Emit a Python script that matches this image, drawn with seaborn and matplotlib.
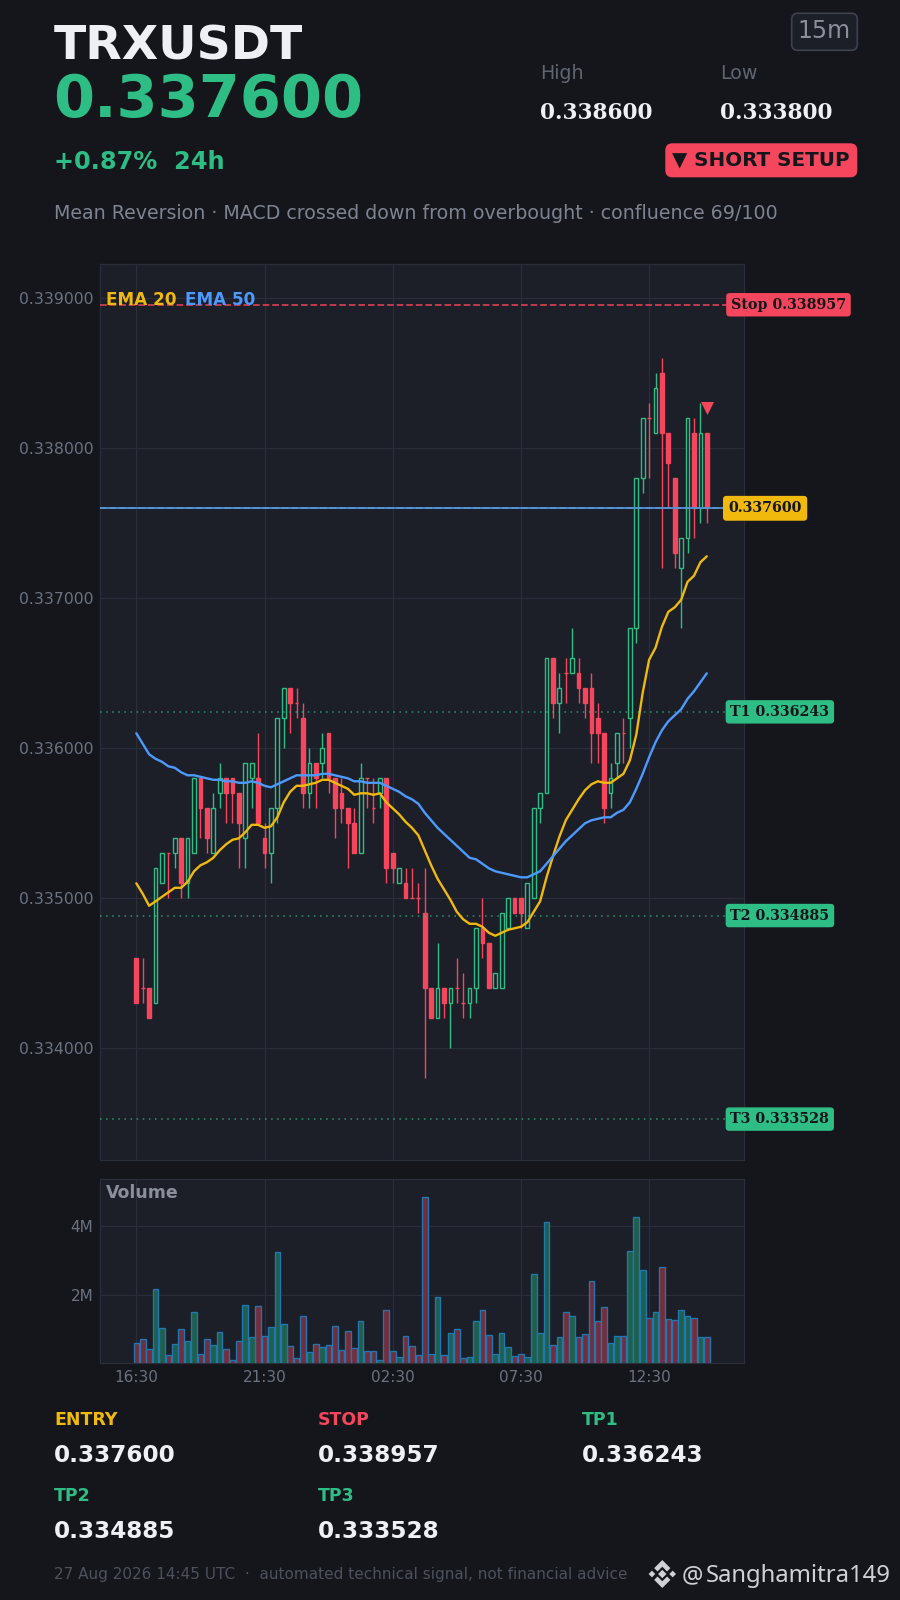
import numpy as np
import pandas as pd
import matplotlib
matplotlib.use('Agg')
import matplotlib.pyplot as plt
import seaborn as sns
from matplotlib.patches import FancyBboxPatch, Polygon
from matplotlib.transforms import IdentityTransform

# Candles
opens = [.3346,.3344,.3344,.3343,.3351,.3353,.3353,.3354,.3351,.3353,
         .3358,.3356,.3353,.3357,.3358,.3358,.3357,.3354,.3358,.3358,
         .3354,.3353,.3356,.3362,.3364,.3363,.3362,.3357,.3359,.3359,
         .3361,.3358,.3357,.3356,.3355,.3353,.3358,.3356,.3357,.3358,
         .3353,.3351,.3351,.3350,.3350,.3349,.3344,.3342,.3344,.3343,
         .3344,.3343,.3343,.3344,.3348,.3347,.3344,.3344,.3348,.3350,
         .3350,.3348,.3350,.3356,.3357,.3366,.3363,.3365,.3365,.3365,
         .3364,.3364,.3362,.3361,.3357,.3359,.3361,.3362,.3368,.3378,
         .3382,.3381,.3385,.3381,.3378,.3372,.3374,.3381,.3376,.3381]
highs = [.3346,.3346,.3344,.3352,.3353,.3353,.3354,.3354,.3354,.3358,
         .3358,.3356,.3357,.3359,.3358,.3358,.3357,.3359,.3359,.3361,
         .3355,.3356,.3362,.3364,.3364,.3364,.3363,.3360,.3359,.3361,
         .3361,.3358,.3358,.3356,.3356,.3359,.3358,.3358,.3358,.3358,
         .3353,.3352,.3352,.3352,.3351,.3352,.3344,.3347,.3344,.3344,
         .3346,.3345,.3344,.3348,.3350,.3347,.3345,.3349,.3350,.3350,
         .3350,.3351,.3356,.3357,.3366,.3366,.3365,.3366,.3368,.3366,
         .3364,.3365,.3363,.3361,.3359,.3361,.3362,.3368,.3378,.3382,
         .3383,.3385,.3386,.3381,.3378,.3374,.3382,.3382,.3383,.3381]
lows = [.3343,.3343,.3342,.3343,.3351,.3350,.3352,.3350,.3350,.3353,
        .3354,.3353,.3353,.3356,.3355,.3355,.3352,.3352,.3356,.3355,
        .3352,.3351,.3355,.3360,.3361,.3362,.3356,.3356,.3356,.3358,
        .3357,.3354,.3355,.3352,.3353,.3353,.3356,.3355,.3356,.3351,
        .3351,.3351,.3350,.3350,.3349,.3338,.3342,.3342,.3342,.3340,
        .3343,.3342,.3342,.3343,.3346,.3344,.3344,.3344,.3348,.3349,
        .3348,.3348,.3350,.3355,.3357,.3362,.3361,.3363,.3365,.3363,
        .3362,.3359,.3359,.3355,.3356,.3358,.3359,.3360,.3367,.3377,
        .3378,.3381,.3372,.3376,.3372,.3368,.3373,.3374,.3375,.3375]
closes = [.3343,.3344,.3342,.3352,.3353,.3353,.3354,.3351,.3354,.3358,
          .3356,.3354,.3356,.3358,.3357,.3357,.3355,.3359,.3359,.3355,
          .3353,.3356,.3362,.3364,.3363,.3363,.3357,.3359,.3358,.3360,
          .3358,.3356,.3356,.3355,.3353,.3358,.3358,.3356,.3358,.3352,
          .3352,.3352,.3350,.3350,.3350,.3344,.3342,.3344,.3343,.3344,
          .3344,.3343,.3344,.3348,.3347,.3344,.3345,.3349,.3350,.3349,
          .3349,.3351,.3356,.3357,.3366,.3363,.3364,.3365,.3366,.3364,
          .3363,.3361,.3361,.3356,.3358,.3361,.3361,.3368,.3378,.3382,
          .3382,.3384,.3381,.3379,.3373,.3374,.3382,.3376,.3381,.3376]
ema20 = [.33510,.33503,.33495,.33498,.33501,.33504,.33507,.33507,.33511,.33518,
         .33522,.33524,.33527,.33532,.33536,.33539,.33540,.33544,.33549,.33549,
         .33547,.33548,.33554,.33564,.33571,.33575,.33575,.33576,.33577,.33579,
         .33579,.33577,.33575,.33573,.33569,.33570,.33570,.33569,.33570,.33564,
         .33560,.33556,.33551,.33547,.33542,.33532,.33522,.33513,.33506,.33499,
         .33491,.33486,.33483,.33483,.33481,.33477,.33475,.33477,.33479,.33480,
         .33481,.33484,.33491,.33498,.33514,.33528,.33541,.33552,.33559,.33566,
         .33572,.33576,.33578,.33577,.33577,.33580,.33583,.33592,.33609,.33637,
         .33659,.33667,.33681,.33691,.33694,.33699,.33711,.33715,.33724,.33728]
ema50 = [.33610,.33603,.33596,.33593,.33591,.33588,.33587,.33584,.33582,.33582,
         .33581,.33580,.33579,.33579,.33578,.33578,.33577,.33577,.33578,.33577,
         .33575,.33574,.33576,.33578,.33580,.33582,.33582,.33582,.33582,.33583,
         .33583,.33582,.33581,.33580,.33578,.33578,.33577,.33577,.33577,.33575,
         .33573,.33571,.33568,.33566,.33563,.33557,.33552,.33547,.33543,.33539,
         .33535,.33531,.33527,.33526,.33523,.33520,.33518,.33517,.33516,.33515,
         .33514,.33514,.33516,.33518,.33523,.33528,.33533,.33538,.33542,.33546,
         .33550,.33552,.33553,.33554,.33554,.33557,.33559,.33564,.33573,.33583,
         .33594,.33604,.33612,.33618,.33622,.33626,.33633,.33638,.33644,.33650]
volume_m = [.61,.72,.43,2.17,1.04,.26,.58,1.01,.67,1.51,
            .29,.74,.55,.93,.43,.14,.67,1.71,.78,1.68,
            .81,1.07,3.25,1.16,.52,.17,1.39,.35,.58,.49,
            .55,1.10,.41,.96,.46,1.25,.38,.38,.12,1.56,
            .38,.20,.81,.52,.26,4.86,.29,1.94,.26,.90,
            1.01,.17,.20,1.25,1.56,.84,.29,.90,.49,.23,
            .29,.20,2.61,.90,4.12,.55,.78,1.51,1.39,.78,
            .87,2.41,1.25,1.65,.61,.81,.81,3.27,4.26,2.72,
            1.33,1.51,2.81,1.30,1.27,1.56,1.39,1.33,.78,.78]

time_ticks = [0, 20, 40, 60, 80]
time_labels = ['16:30', '21:30', '02:30', '07:30', '12:30']
price_ticks = [.334, .335, .336, .337, .338, .339]
entry = 0.337600
stop = 0.338957
targets = [0.336243, 0.334885, 0.333528]
target_names = ['T1', 'T2', 'T3']
signal_price = 0.33827

BG = '#14161b'
PANEL = '#1c1f28'
GRID = '#2a2e38'
UP = '#2ebd85'
DOWN = '#f6465d'
AMBER = '#f0b90b'
BLUE = '#4c9aff'
MUTED = '#6b7280'
WHITE = '#eef0f4'
SERIF = 'DejaVu Serif'

sns.set_theme(style='dark', rc={'figure.facecolor': BG, 'axes.facecolor': PANEL})
plt.rcParams['font.family'] = ['DejaVu Sans']

fig = plt.figure(figsize=(9, 16), dpi=100, facecolor=BG)


def axes_px(left, top, right, bottom):
    return fig.add_axes([left / 900, 1 - bottom / 1600, (right - left) / 900, (bottom - top) / 1600])


def txt(x, y, s, **kw):
    # x, y are pixels from the top left, y is the baseline
    return fig.text(x / 900, 1 - y / 1600, s, va='baseline', ha=kw.pop('ha', 'left'), zorder=12, **kw)


def box(x0, y0, x1, y1, face, edge='none', r=5, lw=1):
    p = FancyBboxPatch((x0, 1600 - y1), x1 - x0, y1 - y0, boxstyle=f'round,pad=0,rounding_size={r}',
                       facecolor=face, edgecolor=edge, linewidth=lw, transform=IdentityTransform(), zorder=11)
    fig.add_artist(p)


ax = axes_px(100.3, 264.3, 743.7, 1160)
vax = axes_px(100.3, 1179.3, 743.7, 1363.3)

idx = np.arange(len(opens))
o, h, l, c = map(np.array, (opens, highs, lows, closes))
rising = c > o

# Candles: hollow green, filled red
ax.vlines(idx, l, h, colors=np.where(rising, UP, DOWN), linewidth=1.0, zorder=3)
ax.bar(idx[rising], (c - o)[rising], bottom=o[rising], width=0.58, facecolor=PANEL,
       edgecolor=UP, linewidth=1.0, zorder=4)
ax.bar(idx[~rising], (c - o)[~rising], bottom=o[~rising], width=0.58, facecolor=DOWN,
       edgecolor=DOWN, linewidth=1.0, zorder=4)

sns.lineplot(x=idx, y=ema20, ax=ax, color=AMBER, linewidth=1.7, legend=False, zorder=6)
sns.lineplot(x=idx, y=ema50, ax=ax, color=BLUE, linewidth=1.7, legend=False, zorder=6)

# Trade levels
ax.axhline(entry, color=AMBER, linewidth=1.3, linestyle='--', zorder=5)
ax.axhline(entry, color='#4a90e2', linewidth=1.3, zorder=5)
ax.axhline(stop, color=DOWN, linewidth=1.3, linestyle='--', alpha=0.8, zorder=5)
for t in targets:
    ax.axhline(t, color=UP, linewidth=1.1, linestyle=(0, (1, 3)), alpha=0.75, zorder=5)
ax.scatter([idx[-1]], [signal_price], marker='v', s=88, color=DOWN, linewidths=0, zorder=7)

ax.set_xlim(-5.62, 94.76)
ax.set_ylim(0.3332553, 0.3392267)
ax.set_xticks(time_ticks)
ax.set_xticklabels([])
ax.set_yticks(price_ticks)
ax.set_yticklabels([f'{p:.6f}' for p in price_ticks])
ax.tick_params(axis='y', length=0, pad=5, labelsize=11.3, labelcolor=MUTED)
ax.tick_params(axis='x', length=0)
ax.set_xlabel('')
ax.set_ylabel('')

ax.text(0.0088, 0.9545, 'EMA 20', transform=ax.transAxes, color=AMBER, fontsize=12.2, fontweight='bold',
        va='baseline', zorder=8)
ax.text(0.1317, 0.9545, 'EMA 50', transform=ax.transAxes, color=BLUE, fontsize=12.2, fontweight='bold',
        va='baseline', zorder=8)

# Price tags hanging off the right edge
tag_font = dict(fontsize=10.3, fontweight='bold', family=SERIF, color=BG, va='center', ha='left',
                annotation_clip=False, zorder=15)
ax.annotate(f'Stop {stop:.6f}', xy=(1, stop), xycoords=('axes fraction', 'data'), xytext=(-9.2, 0),
            textcoords='offset points', bbox=dict(boxstyle='round,pad=0.33,rounding_size=0.25', fc=DOWN, ec='none'),
            **tag_font)
ax.annotate(f'{entry:.6f}', xy=(1, entry), xycoords=('axes fraction', 'data'), xytext=(-11, 0),
            textcoords='offset points', bbox=dict(boxstyle='round,pad=0.38,rounding_size=0.25', fc=AMBER, ec='none'),
            **tag_font)
for name, t in zip(target_names, targets):
    ax.annotate(f'{name} {t:.6f}', xy=(1, t), xycoords=('axes fraction', 'data'), xytext=(-9.6, 0),
                textcoords='offset points', bbox=dict(boxstyle='round,pad=0.33,rounding_size=0.25', fc=UP, ec='none'),
                **tag_font)

# Volume panel
vol_df = pd.DataFrame({'x': idx, 'vol': np.array(volume_m) * 1e6,
                       'side': np.where(rising, 'up', 'down')})
sns.barplot(data=vol_df, x='x', y='vol', hue='side', native_scale=True, dodge=False, width=0.88, saturation=1,
            palette={'up': '#1f604c', 'down': '#752c3b'}, edgecolor='#1f77b4', linewidth=0.95, legend=False,
            ax=vax, zorder=3)
vax.set_xlim(-5.62, 94.76)
vax.set_ylim(0.03e6, 5.36e6)
vax.set_xticks(time_ticks)
vax.set_xticklabels(time_labels)
vax.set_yticks([2e6, 4e6])
vax.set_yticklabels(['2M', '4M'])
vax.tick_params(length=0, labelsize=11, labelcolor=MUTED)
vax.tick_params(axis='x', pad=5)
vax.tick_params(axis='y', pad=5)
vax.set_xlabel('')
vax.set_ylabel('')
vax.text(0.0088, 0.896, 'Volume', transform=vax.transAxes, color='#8a8f9a', fontsize=12.5, fontweight='bold',
         va='baseline', zorder=8)

for a in (ax, vax):
    a.grid(True, color=GRID, linewidth=0.9)
    a.set_axisbelow(True)
    for s in a.spines.values():
        s.set_color(GRID)
        s.set_linewidth(0.9)

# Header
txt(53.5, 60, 'TRXUSDT', color=WHITE, fontsize=34, fontweight='bold')
txt(53.5, 116.7, f'{entry:.6f}', color=UP, fontsize=42.5, fontweight='bold')
txt(54.5, 169, '+0.87%  24h', color=UP, fontsize=17.3, fontweight='bold')
txt(54, 219, 'Mean Reversion · MACD crossed down from overbought · confluence 69/100', color='#7d8390', fontsize=13.72)
box(791.7, 13.3, 857.3, 50.3, PANEL, edge='#3d424e', r=6, lw=1.2)
txt(824.5, 38.5, '15m', color='#8a8f9a', fontsize=17, ha='center')
txt(540.5, 79, 'High', color='#5f6570', fontsize=13.7)
txt(720.5, 79, 'Low', color='#5f6570', fontsize=13.7)
txt(540, 119, '0.338600', color=WHITE, fontsize=15.55, fontweight='bold', family=SERIF)
txt(720, 119, '0.333800', color=WHITE, fontsize=15.55, fontweight='bold', family=SERIF)
box(665.3, 143.3, 857.3, 177.3, DOWN, r=7)
txt(672, 165.7, '▼ SHORT SETUP', color=BG, fontsize=14.35, fontweight='bold')

# Trade plan block
plan = [(54, 1425, 'ENTRY', AMBER, entry), (318, 1425, 'STOP', DOWN, stop), (582, 1425, 'TP1', UP, targets[0]),
        (54, 1501, 'TP2', UP, targets[1]), (318, 1501, 'TP3', UP, targets[2])]
for x, y, name, col, val in plan:
    txt(x, y, name, color=col, fontsize=12.5, fontweight='bold')
    txt(x, y + 37.5, f'{val:.6f}', color=WHITE, fontsize=16.7, fontweight='bold')

txt(54, 1579, '27 Aug 2026 14:45 UTC  ·  automated technical signal, not financial advice', color='#4c515c',
    fontsize=11)

# Watermark: logo plus handle
cx, cy, u = 662.3, 1600 - 1574, 14
logo = [[(0, .3), (.3, 0), (0, -.3), (-.3, 0)],
        [(-.74, .24), (-.5, 0), (-.74, -.24), (-.98, 0)],
        [(.74, .24), (.98, 0), (.74, -.24), (.5, 0)],
        [(0, 1), (.58, .42), (.34, .18), (0, .52), (-.34, .18), (-.58, .42)],
        [(0, -1), (.58, -.42), (.34, -.18), (0, -.52), (-.34, -.18), (-.58, -.42)]]
for pts in logo:
    fig.add_artist(Polygon([(cx + u * a, cy + u * b) for a, b in pts], closed=True, facecolor='#d0d1d4',
                           edgecolor='none', transform=IdentityTransform(), zorder=11))
txt(681.5, 1582, '@', color='#d0d1d4', fontsize=17.2, family='Noto Sans')
txt(706, 1582, 'Sanghamitra149', color='#d0d1d4', fontsize=17.2, family='Noto Sans')

fig.savefig('out.png', dpi=100, facecolor=BG)
